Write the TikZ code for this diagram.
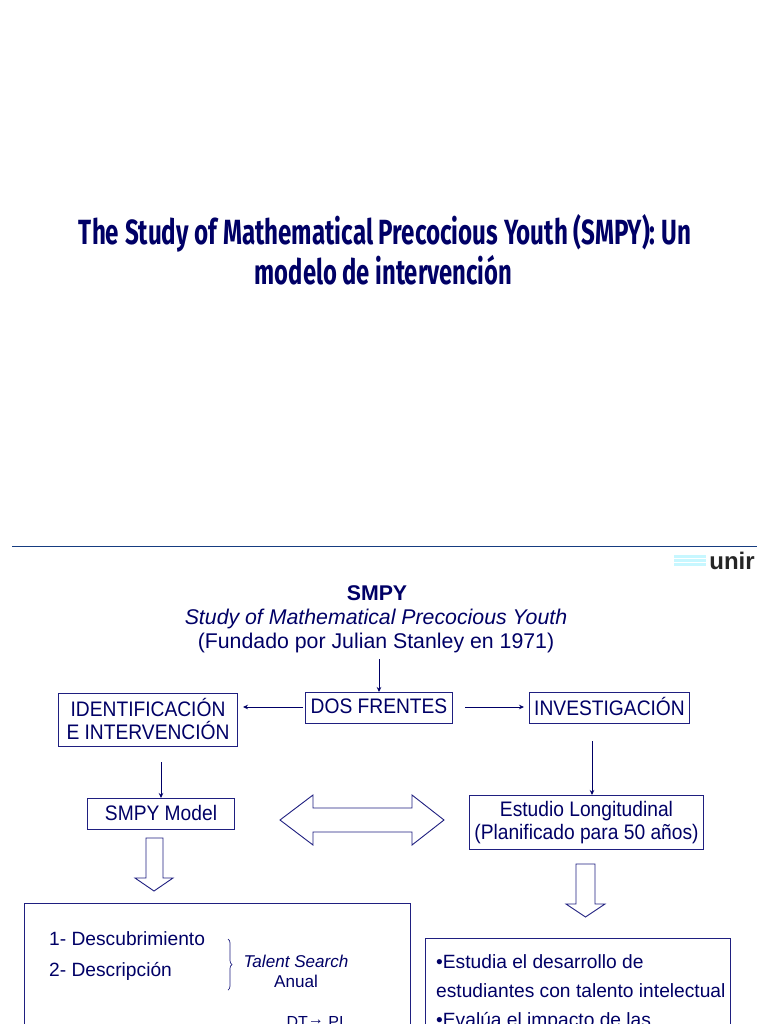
\documentclass[tikz,border=0pt]{standalone}
\usepackage{fontspec}
\setmainfont{Liberation Sans}
\newfontfamily\titlefont{Fira Sans}
\newfontfamily\condfont[FakeStretch=0.915]{Liberation Sans}
\usetikzlibrary{arrows.meta,decorations.pathreplacing}
\definecolor{navy}{HTML}{000066}
\definecolor{boxline}{HTML}{1F1F80}
\newcommand\liftup[1]{\raisebox{1.5pt}[\height][\depth]{#1}}
\tikzset{
  x=1pt,y=-1pt,
  lbl/.style={text=navy,font=\fontsize{21.3}{24}\selectfont,inner sep=0pt,align=center},
  boxn/.style={draw=boxline,line width=1pt,text=navy,font=\condfont\fontsize{21}{23}\selectfont,inner sep=0pt,align=center,anchor=north west},
  conn/.style={draw=navy,line width=0.8pt,-{Stealth[length=5pt,width=4.5pt]}},
  block/.style={draw=boxline,line width=0.9pt,fill=white,line join=miter},
  ttl/.style={text=navy,font=\titlefont\bfseries\fontsize{35}{38}\selectfont,inner sep=0pt},
  smallr/.style={lbl,anchor=base west,font=\fontsize{19.2}{21}\selectfont},
}
\begin{document}
\begin{tikzpicture}
\useasboundingbox (0,0) rectangle (768,1024);
\clip (0,0) rectangle (768,1024);
\fill[white] (0,0) rectangle (768,1024);
% title
\node[ttl] (t1) at (385,233.5) {\scalebox{0.69}[1]{The Study of Mathematical Precocious Youth (SMPY): Un}};
\node[ttl] (t2) at (383.5,270) {\scalebox{0.68}[1]{modelo de intervención}};
% rule and logo
\draw[draw=boxline!70!teal,line width=1pt] (12,546) -- (757,546);
\foreach \yy in {555,559,563}{\fill[blue!15!cyan!22] (674,\yy) rectangle (706,\yy+2.5);}
\node[inner sep=0pt,font=\fontsize{24}{24}\selectfont\bfseries,text=black!85] (logo) at (732,561) {unir};
% heading
\node[lbl,font=\fontsize{21.3}{24}\selectfont\bfseries] (h1) at (377,593) {SMPY};
\node[lbl,font=\fontsize{21.3}{24}\selectfont\itshape] (h2) at (376,619) {Study of Mathematical Precocious Youth};
\node[lbl] (h3) at (376,643) {(Fundado por Julian Stanley en 1971)};
% boxes
\node[boxn,minimum width=179pt,minimum height=53pt] (ident) at (58,693) {\liftup{IDENTIFICACIÓN}\\\liftup{E INTERVENCIÓN}};
\node[boxn,minimum width=147pt,minimum height=31pt] (dos) at (305,692) {\liftup{DOS FRENTES}};
\node[boxn,minimum width=160pt,minimum height=31pt] (inv) at (529,692) {\liftup{INVESTIGACIÓN}};
\node[boxn,minimum width=147pt,minimum height=31pt] (model) at (87,798) {\liftup{SMPY Model}};
\node[boxn,minimum width=234pt,minimum height=54pt] (est) at (469,795) {Estudio Longitudinal\\(Planificado para 50 años)};
% connectors
\coordinate (c0) at (379,659);
\coordinate (c1) at (161,762);
\coordinate (c2) at (592,741);
\coordinate (c3) at (303,707);
\coordinate (c4) at (465,707);
\draw[conn] (c0) -- (dos.north -| c0);
\draw[conn,shorten >=5pt] (c3) -- (ident.east |- c3);
\draw[conn,shorten >=5pt] (c4) -- (inv.west |- c4);
\draw[conn] (c1) -- (model.north -| c1);
\draw[conn] (c2) -- (est.north -| c2);
% block arrows
\draw[block] (146,838) -- (163,838) -- (163,878) -- (173,878) -- (154,891) -- (135,878) -- (146,878) -- cycle;
\draw[block] (576,864) -- (595,864) -- (595,904) -- (605,904) -- (585.5,917) -- (566,904) -- (576,904) -- cycle;
\draw[block] (280,820) -- (313,795) -- (313,808) -- (412,808) -- (412,795) -- (444,820) -- (412,845) -- (412,832) -- (313,832) -- (313,845) -- cycle;
% lower boxes
\draw[draw=boxline,line width=1pt] (24,1040) |- (410,903) -- (410,1040);
\draw[draw=boxline,line width=1pt] (425,1040) |- (730,938) -- (730,1040);
\node[smallr] (d1) at (49,945) {1- Descubrimiento};
\node[smallr] (d2) at (49,976) {2- Descripción};
\draw[draw=boxline,line width=0.7pt,decorate,decoration={brace,amplitude=4pt}] (228,939) -- (228,990);
\node[lbl,font=\fontsize{17.1}{19}\selectfont\itshape] (ts) at (296,961) {Talent Search};
\node[lbl,font=\fontsize{17.1}{19}\selectfont] (an) at (296,981) {Anual};
\node[lbl,anchor=base,font=\fontsize{16}{19}\selectfont] (dt) at (315,1027) {DT\raisebox{2.5pt}{→} PI};
\node[smallr] (r1) at (436,968) {•Estudia el desarrollo de};
\node[smallr] (r2) at (436,997) {estudiantes con talento intelectual};
\node[smallr] (r3) at (436,1026) {•Evalúa el impacto de las};
\end{tikzpicture}
\end{document}
